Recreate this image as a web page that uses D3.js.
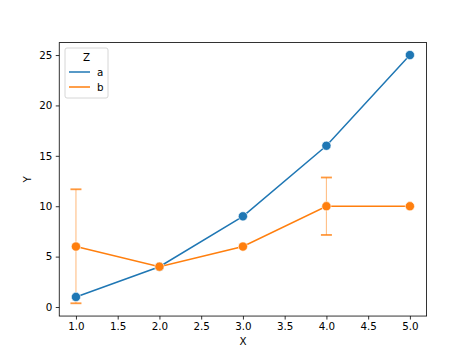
<!DOCTYPE html>
<html><head><meta charset="utf-8">
<script src="https://cdn.jsdelivr.net/npm/d3@7"></script>
<style>body{margin:0;background:#fff}svg{display:block}text{font-family:"DejaVu Sans",sans-serif}</style>
</head><body><svg id="c" width="474" height="355"></svg>
<script>
const xVals = [1, 2, 3, 4, 5];
const seriesA = [1, 4, 9, 16, 25];
const seriesB = [6, 4, 6, 10, 10];
const errB = [[1, 0.37, 11.68], [4, 7.15, 12.85]];
const xTicks = [1.0, 1.5, 2.0, 2.5, 3.0, 3.5, 4.0, 4.5, 5.0];
const yTicks = [0, 5, 10, 15, 20, 25];
const series = [{name: "a", vals: seriesA, color: "#1f77b4"}, {name: "b", vals: seriesB, color: "#ff7f0e"}];

const W = 474, H = 355;
const m = {l: 59.25, r: 426.6, t: 42.6, b: 316.05};
const svg = d3.select("#c");
const x = d3.scaleLinear().domain([0.8, 5.2]).range([m.l, m.r]);
const y = d3.scaleLinear().domain([-0.8965, 26.2335]).range([m.b, m.t]);

// axes
const xa = svg.append("g").attr("transform", `translate(0,${m.b})`)
  .call(d3.axisBottom(x).tickValues(xTicks).tickFormat(d3.format(".1f")).tickSize(3.5).tickPadding(3.5));
const ya = svg.append("g").attr("transform", `translate(${m.l},0)`)
  .call(d3.axisLeft(y).tickValues(yTicks).tickFormat(d3.format("d")).tickSize(3.5).tickPadding(3.5));
[xa, ya].forEach(g => {
  g.select(".domain").remove();
  g.selectAll("line").attr("stroke", "#000").attr("stroke-width", 0.8);
  g.selectAll("text").attr("font-size", 10.3).attr("fill", "#000").attr("font-family", "DejaVu Sans");
});

// error bars
const eb = svg.append("g");
errB.forEach(([xv, lo, hi]) => {
  const cx = x(xv);
  eb.append("line").attr("x1", cx).attr("x2", cx).attr("y1", y(lo)).attr("y2", y(hi))
    .attr("stroke", "#ff7f0e").attr("stroke-opacity", 0.5).attr("stroke-width", 1.1);
  [lo, hi].forEach(v => eb.append("line").attr("x1", cx - 5.5).attr("x2", cx + 5.5)
    .attr("y1", y(v)).attr("y2", y(v)).attr("stroke", "#ff7f0e").attr("stroke-opacity", 0.8).attr("stroke-width", 1.8));
});

// lines + markers
const line = d3.line().x((d, i) => x(xVals[i])).y(d => y(d));
series.forEach(s => {
  svg.append("path").datum(s.vals).attr("d", line).attr("fill", "none")
    .attr("stroke", s.color).attr("stroke-width", 1.5);
  svg.append("g").selectAll("circle").data(s.vals).join("circle")
    .attr("cx", (d, i) => x(xVals[i])).attr("cy", d => y(d)).attr("r", 4.6)
    .attr("fill", s.color).attr("stroke", "#fff").attr("stroke-width", 0.6);
});

// frame
svg.append("rect").attr("x", m.l).attr("y", m.t).attr("width", m.r - m.l).attr("height", m.b - m.t)
  .attr("fill", "none").attr("stroke", "#000").attr("stroke-width", 0.8);

// axis labels
svg.append("text").attr("x", (m.l + m.r) / 2).attr("y", 345).attr("text-anchor", "middle")
  .attr("font-size", 10.3).text("X");
svg.append("text").attr("transform", `translate(31,${(m.t + m.b) / 2}) rotate(-90)`)
  .attr("text-anchor", "middle").attr("font-size", 10.3).text("Y");

// legend
const lg = svg.append("g").attr("transform", "translate(65,48)");
lg.append("rect").attr("x", 0).attr("y", 0).attr("width", 43).attr("height", 50).attr("rx", 2)
  .attr("fill", "#fff").attr("fill-opacity", 0.8).attr("stroke", "#ccc").attr("stroke-width", 0.8);
lg.append("text").attr("x", 21.5).attr("y", 13).attr("text-anchor", "middle").attr("font-size", 10.3).text("Z");
series.forEach((s, i) => {
  const yy = 24 + i * 15;
  lg.append("line").attr("x1", 4).attr("x2", 25).attr("y1", yy).attr("y2", yy)
    .attr("stroke", s.color).attr("stroke-width", 1.5);
  lg.append("text").attr("x", 32).attr("y", yy + 3.7).attr("font-size", 10.3).text(s.name);
});
</script></body></html>
